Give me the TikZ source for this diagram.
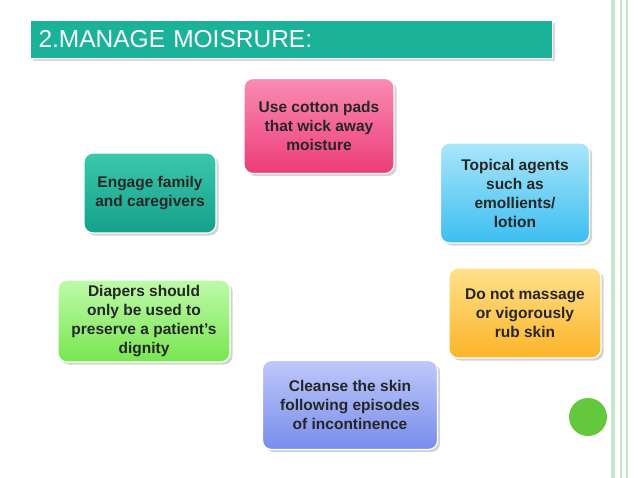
\documentclass[tikz,border=0pt]{standalone}
\usepackage{fontspec}
\setmainfont{Liberation Sans}
\usetikzlibrary{shadows}
\definecolor{titleteal}{RGB}{26,178,152}
\definecolor{pinktop}{RGB}{250,140,180}
\definecolor{pinkbot}{RGB}{236,60,120}
\definecolor{cyantop}{RGB}{170,230,250}
\definecolor{cyanbot}{RGB}{60,190,240}
\definecolor{orangetop}{RGB}{255,225,140}
\definecolor{orangebot}{RGB}{252,180,40}
\definecolor{bluetop}{RGB}{190,200,250}
\definecolor{bluebot}{RGB}{120,140,235}
\definecolor{greentop}{RGB}{190,250,170}
\definecolor{greenbot}{RGB}{120,230,80}
\definecolor{tealtop}{RGB}{60,200,170}
\definecolor{tealbot}{RGB}{20,160,140}
\definecolor{dotgreen}{RGB}{100,200,60}
\definecolor{lineg}{RGB}{200,230,200}
\begin{document}
\begin{tikzpicture}[x=1pt,y=-1pt,
      tip/.style={rounded corners=9pt, draw=white, line width=1.2pt,
        drop shadow={opacity=0.35}, align=center, text=black!85,
        font=\fontsize{15.5}{19}\selectfont\bfseries, inner sep=4pt},]
      \useasboundingbox (0,0) rectangle (638,478);
      % right margin lines
      \fill[lineg] (611,0) rectangle (615,478);
      \fill[lineg] (620,0) rectangle (622,478);
      \fill[lineg] (626,0) rectangle (628,478);
      % title bar
      \node[fill=titleteal, draw=white, line width=1pt, minimum width=522, minimum height=38,
        anchor=north west, text=white, font=\fontsize{24.5}{28}\selectfont, inner xsep=8pt,
        text width=506, drop shadow={opacity=0.3}] (title) at (30,20) {2.MANAGE MOISRURE:};
      % tips
      \node[tip, top color=pinktop, bottom color=pinkbot, minimum width=150, minimum height=95]
        (cotton) at (319,126) {Use cotton pads\\that wick away\\moisture};
      \node[tip, top color=cyantop, bottom color=cyanbot, minimum width=149, minimum height=100]
        (topical) at (515,193) {Topical agents\\such as\\emollients/\\lotion};
      \node[tip, top color=orangetop, bottom color=orangebot, minimum width=152, minimum height=90]
        (massage) at (525,313) {Do not massage\\or vigorously\\rub skin};
      \node[tip, top color=bluetop, bottom color=bluebot, minimum width=175, minimum height=89]
        (cleanse) at (350,405) {Cleanse the skin\\following episodes\\of incontinence};
      \node[tip, top color=greentop, bottom color=greenbot, minimum width=172, minimum height=82]
        (diapers) at (144,321) {Diapers should\\only be used to\\preserve a patient's\\dignity};
      \node[tip, top color=tealtop, bottom color=tealbot, minimum width=132, minimum height=80]
        (family) at (150,193) {Engage family\\and caregivers};
      % corner dot
      \fill[dotgreen] (588,417) circle (19);
\end{tikzpicture}
\end{document}
